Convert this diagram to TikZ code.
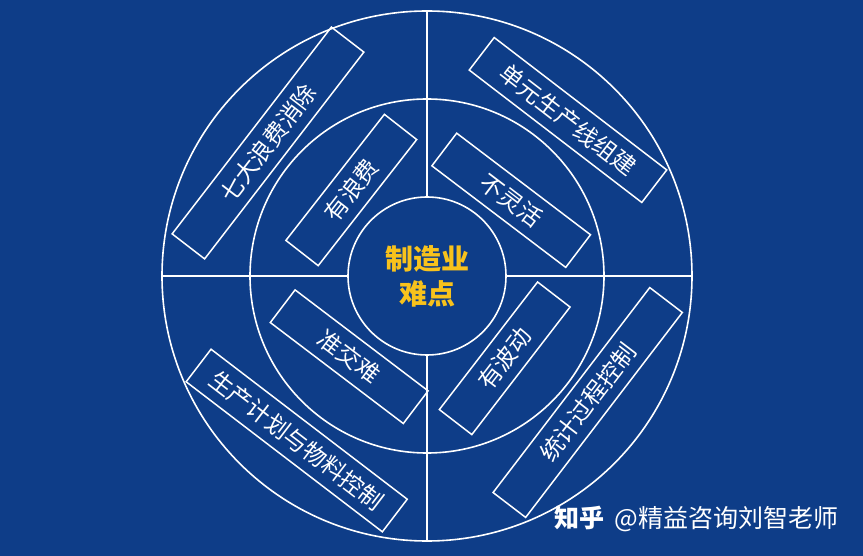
\documentclass[tikz,border=0pt]{standalone}
\usepackage{fontspec}
\setmainfont{Noto Sans CJK SC}
\definecolor{bg}{HTML}{0E3D88}
\definecolor{gold}{HTML}{F8C21C}
\begin{document}
\begin{tikzpicture}[x=1pt,y=-1pt,
  ring/.style={circle,draw=white,line width=1.6pt,outer sep=0pt,inner sep=0pt},
  wline/.style={draw=white,line width=1.6pt},
  tag/.style={draw=white,line width=1.5pt,inner sep=0pt,text=white,
    font=\fontsize{23.5}{26}\selectfont,minimum height=41pt},
  ]
\fill[bg] (0,0) rectangle (863,556);
\useasboundingbox (0,0) rectangle (863,556);
\coordinate (c) at (427,276);
\node[ring,minimum size=530pt] (outer) at (c) {};
\node[ring,minimum size=354pt] (mid) at (c) {};
\node[ring,minimum size=158pt,text=gold,font=\fontsize{28}{35}\selectfont\bfseries,align=center] (inner) at (c) {制造业\\难点};
\draw[wline] (inner.north) -- (outer.north);
\draw[wline] (inner.south) -- (outer.south);
\draw[wline] (inner.west) -- (outer.west);
\draw[wline] (inner.east) -- (outer.east);
\node[tag,rotate=52.4,minimum width=261pt] (b1) at (268,143) {七大浪费消除};
\node[tag,rotate=52,minimum width=160pt] (b2) at (351.3,190) {有浪费};
\node[tag,rotate=-37.5,minimum width=217.5pt] (b3) at (568,120) {单元生产线组建};
\node[tag,rotate=-37.2,minimum width=168pt] (b4) at (511.2,200.3) {不灵活};
\node[tag,rotate=-37.2,minimum width=167pt] (b5) at (349.2,356.7) {准交难};
\node[tag,rotate=-37.4,minimum width=247pt] (b6) at (296.7,440.5) {生产计划与物料控制};
\node[tag,rotate=52.4,minimum width=161pt] (b7) at (504.7,358.3) {有波动};
\node[tag,rotate=52.6,minimum width=258pt] (b8) at (587.7,402.5) {统计过程控制};
\node[text=white,font=\fontsize{25}{28}\selectfont,inner sep=0pt] (wm) at (696.5,519) {\textbf{知乎}\hspace{10pt}@精益咨询刘智老师};
\end{tikzpicture}
\end{document}
